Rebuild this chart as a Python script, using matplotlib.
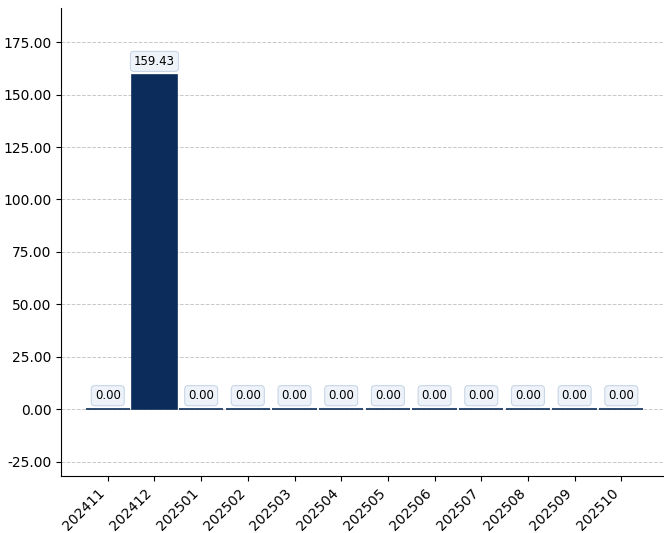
import matplotlib
matplotlib.use('Agg')
import matplotlib.pyplot as plt
import numpy as np

# datos
periodos = ['202411', '202412', '202501', '202502', '202503', '202504',
            '202505', '202506', '202507', '202508', '202509', '202510']
valores = [0.0, 159.43, 0.0, 0.0, 0.0, 0.0, 0.0, 0.0, 0.0, 0.0, 0.0, 0.0]

color_barra = '#0c2d5c'

fig = plt.figure(figsize=(6.64, 5.33), dpi=100)
ax = fig.add_axes([0.092, 0.107, 0.907, 0.878])

x = np.arange(len(periodos))
barras = ax.bar(x, valores, width=0.95, color=color_barra,
                edgecolor=color_barra, linewidth=1.2, zorder=3)

# etiquetas sobre las barras
for xi, v in zip(x, valores):
    ax.annotate(f'{v:.2f}', xy=(xi, v), xytext=(0, 5), textcoords='offset points',
                ha='center', va='bottom', fontsize=8.5, zorder=4,
                bbox=dict(boxstyle='round,pad=0.3', fc='#eef3f9', ec='#c9d6e6', lw=0.8))

maximo = max(valores)
ax.set_ylim(-0.2 * maximo, 1.2 * maximo)
ax.set_xlim(-1.0, 11.9)
ax.set_yticks(np.arange(-25, 176, 25))
ax.yaxis.set_major_formatter(matplotlib.ticker.FormatStrFormatter('%.2f'))
ax.set_xticks(x)
ax.set_xticklabels(periodos, rotation=45, ha='right', fontsize=10)
ax.tick_params(axis='y', labelsize=10)

ax.grid(axis='y', linestyle='--', color='#c8c8c8', linewidth=0.7, zorder=0)
ax.spines['top'].set_visible(False)
ax.spines['right'].set_visible(False)

fig.savefig('out.png', dpi=100)
